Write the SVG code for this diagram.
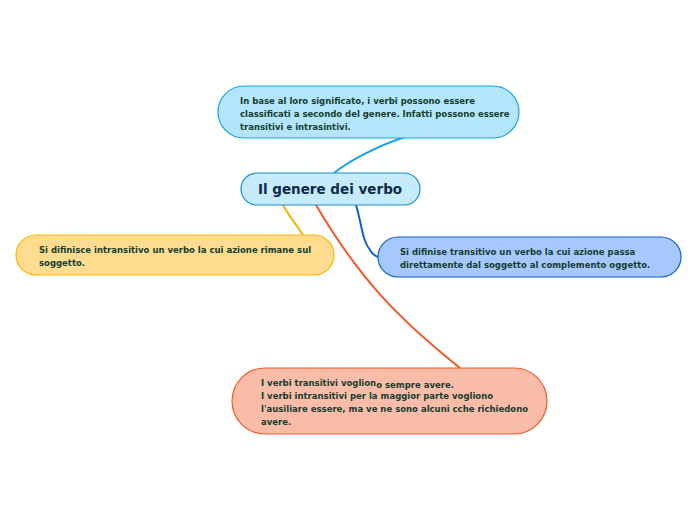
<svg xmlns="http://www.w3.org/2000/svg" width="696" height="520" viewBox="0 0 696 520">
<style>
.t{font-family:"DejaVu Sans",Verdana,sans-serif;font-size:8.5px;font-weight:bold;fill:#143d2e}
.c{fill:none;stroke-width:2}
</style>
<rect width="696" height="520" fill="#fff"/>
<g id="connectors">
<path class="c" stroke="#17a3e6" d="M334,173 C350,160 380,145 405,137"/>
<path class="c" stroke="#f5b400" d="M283,205 C290,218 297,225 303,235"/>
<path class="c" stroke="#0e5fcc" d="M356,205 C362,225 362,240 370,250 C373,255 375,256 378,257"/>
<path class="c" stroke="#f05a28" d="M316,205 C360,280 400,320 460,368"/>
</g>
<g id="n1"><rect x="218" y="86" width="301" height="52" rx="26" fill="#b3e5fc" stroke="#17a3e6" stroke-width="1.2"/>
<text class="t"><tspan x="240" y="104">In base al loro significato, i verbi possono essere</tspan><tspan x="240" y="117">classificati a secondo del genere. Infatti possono essere</tspan><tspan x="240" y="130">transitivi e intrasintivi.</tspan></text></g>
<g id="root"><rect x="241" y="173" width="179" height="32" rx="16" fill="#c6ebfd" stroke="#1a8fd0" stroke-width="1.2"/>
<text x="330" y="194" text-anchor="middle" font-family="DejaVu Sans,Verdana,sans-serif" font-size="13.5" font-weight="bold" fill="#0d2a4a">Il genere dei verbo</text></g>
<g id="n2"><rect x="16" y="235" width="318" height="40" rx="20" fill="#ffdc8f" stroke="#f5b400" stroke-width="1.2"/>
<text class="t"><tspan x="39" y="253">Si difinisce intransitivo un verbo la cui azione rimane sul</tspan><tspan x="39" y="266">soggetto.</tspan></text></g>
<g id="n3"><rect x="378" y="237" width="303" height="40" rx="20" fill="#a7c8ff" stroke="#0e5fcc" stroke-width="1.2"/>
<text class="t"><tspan x="400" y="255">Si difinise transitivo un verbo la cui azione passa</tspan><tspan x="400" y="268">direttamente dal soggetto al complemento oggetto.</tspan></text></g>
<g id="n4"><rect x="232" y="368" width="315" height="66" rx="33" fill="#f9bca8" stroke="#f05a28" stroke-width="1.2"/>
<text class="t"><tspan x="261" y="386">I verbi transitivi voglion</tspan><tspan y="388">o sempre avere.</tspan><tspan x="261" y="399">I verbi intransitivi per la maggior parte vogliono</tspan><tspan x="261" y="412">l'ausiliare essere, ma ve ne sono alcuni cche richiedono</tspan><tspan x="261" y="425">avere.</tspan></text></g>
</svg>
